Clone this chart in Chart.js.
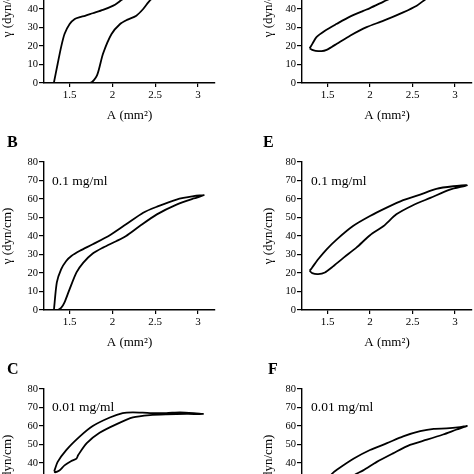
<!DOCTYPE html>
<html>
<head>
<meta charset="utf-8">
<script src="https://cdn.jsdelivr.net/npm/chart.js@4.4.1/dist/chart.umd.min.js"></script>
<style>
  html, body { margin:0; padding:0; background:#fff; }
  body { width:474px; height:474px; overflow:hidden; position:relative; font-family:"Liberation Serif", "DejaVu Serif", serif; }
  .panel { position:absolute; width:237px; height:227px; }
  .letter { position:absolute; font-weight:bold; font-size:16px; line-height:16px; color:#000; }
  .conc { position:absolute; font-size:13.5px; line-height:14px; color:#000; white-space:nowrap; }
</style>
</head>
<body>
<script>
// ---- data ----
const xTicks = [1.5, 2, 2.5, 3];
const yTicks = [0, 10, 20, 30, 40, 50, 60, 70, 80];
const xTitle = "A (mm²)";
const yTitle = "γ (dyn/cm)";

// Panel A (top row, left)
const aX = [1.315,1.36,1.40,1.44,1.50,1.56,1.62,1.68,1.77,1.89,2.01,2.07,2.11,2.30,2.60,2.90,3.05,2.85,2.60,2.46,2.42,2.36,2.28,2.17,2.09,1.99,1.89,1.82,1.74,1.315];
const aY = [0,10.4,19.4,26.5,31.9,34.6,35.6,36.3,37.7,39.5,41.8,43.6,45,50,56,60,62,57,50,45.5,43.6,40,36.4,34.1,31.9,26.5,15.8,4.1,0,0];

// Panel D (top row, right)
const dX = [1.29,1.32,1.36,1.43,1.49,1.55,1.61,1.77,1.96,2.16,2.39,2.55,2.63,2.80,3.00,3.10,2.90,2.60,2.30,2.16,2.00,1.92,1.77,1.61,1.47,1.37,1.32,1.29];
const dY = [18.8,17.9,17.4,17.2,17.9,19.5,21.2,25.7,30.2,33.7,38.2,41.8,44.5,50,56,58,56,52,47,44,40.5,39,36,32,28.3,24.8,21,18.8];

// Panel B (middle row, left) 0.1 mg/ml
const bX = [1.316,1.35,1.40,1.46,1.52,1.62,1.77,1.97,2.16,2.36,2.52,2.75,2.95,3.07,2.95,2.75,2.52,2.32,2.16,2.05,1.89,1.77,1.66,1.58,1.50,1.44,1.40,1.36,1.316];
const bY = [0,14.9,22,26.5,29.2,32,35.5,40.4,46.3,52.6,55.8,59.7,61.5,62,60.3,57,51.7,45.4,40,37.3,33.7,30.5,25.6,20.3,11.3,4.1,1.1,0,0];

// Panel E (middle row, right) 0.1 mg/ml
const eX = [1.29,1.32,1.39,1.47,1.55,1.69,1.84,2.00,2.16,2.31,2.50,2.71,2.94,3.14,2.98,2.78,2.59,2.39,2.19,2.00,1.80,1.61,1.49,1.39,1.32,1.29];
const eY = [21.2,19.9,19.4,20.3,23,28.3,33.7,40.4,45.4,51.7,56.5,60.6,65.1,67.4,66.9,65.5,62.4,59.4,55.2,50.8,45.4,38.2,32.8,27.4,23,21.2];

// Panel C (bottom row, left) 0.01 mg/ml
const cX = [1.32,1.36,1.46,1.62,1.77,1.97,2.12,2.24,2.44,2.63,2.79,2.95,3.06,2.87,2.63,2.44,2.24,2.05,1.85,1.70,1.60,1.58,1.52,1.44,1.38,1.33,1.32];
const cY = [35.6,40.6,47,54.4,60,64.6,67,67.4,67,67,67.4,67,66.5,66.5,66.3,65.9,64.6,61,56.3,50.7,44.3,42.4,41.1,38.7,36,35,35.6];

// Panel F (bottom row, right) 0.01 mg/ml
const fX = [1.45,1.50,1.55,1.61,1.81,2.00,2.20,2.39,2.59,2.75,2.90,3.06,3.14,3.02,2.86,2.67,2.47,2.27,2.08,1.92,1.84,1.72,1.58,1.45];
const fY = [28,30.5,34,36.3,42.4,47,50.7,54.4,57.2,58.5,58.7,59.4,60,58.1,55.4,52.6,49.8,45.2,40.6,36,34.2,31,28.5,28];

const letters = ["A", "B", "C", "D", "E", "F"];
const concs = ["", "0.1 mg/ml", "0.01 mg/ml", "", "0.1 mg/ml", "0.01 mg/ml"];

// ---- layout ----
const FONT = "'Liberation Serif', 'Times New Roman', serif";
const rowTops = [-97, 130, 357];
const panels = [
  {x:aX, y:aY, col:0, row:0},
  {x:bX, y:bY, col:0, row:1},
  {x:cX, y:cY, col:0, row:2},
  {x:dX, y:dY, col:1, row:0},
  {x:eX, y:eY, col:1, row:1},
  {x:fX, y:fY, col:1, row:2}
];
const letterPos = [[7,-92],[7,134],[7,361],[263,-92],[263,134],[268,361]];
const concPos = [[52,-53],[52,174],[52,400],[311,-53],[311,174],[311,400]];

panels.forEach((p, i) => {
  const div = document.createElement('div');
  div.className = 'panel';
  div.style.left = (p.col * 237) + 'px';
  div.style.top = rowTops[p.row] + 'px';
  const cv = document.createElement('canvas');
  cv.width = 237; cv.height = 227;
  div.appendChild(cv);
  document.body.appendChild(div);

  const left = p.col === 0;
  new Chart(cv, {
    type: 'scatter',
    data: {
      datasets: [{
        data: p.x.map((v, k) => ({x: v, y: p.y[k]})),
        showLine: true,
        borderColor: '#000',
        borderWidth: 1.8,
        pointRadius: 0,
        tension: 0.25,
        fill: false
      }]
    },
    options: {
      responsive: false,
      animation: false,
      devicePixelRatio: 1,
      layout: { padding: { left: left ? 0 : 24, right: left ? 22 : 2, top: 32, bottom: 0 } },
      plugins: { legend: {display:false}, tooltip: {enabled:false} },
      scales: {
        x: {
          type: 'linear', min: 1.2, max: 3.2,
          afterBuildTicks: s => { s.ticks = xTicks.map(v => ({value: v})); },
          afterFit: s => { s.height = 47; },
          ticks: { color:'#000', font:{family:FONT, size:11}, padding:2, maxRotation:0, autoSkip:false, callback: v => String(v) },
          grid: { drawOnChartArea:false, drawTicks:true, tickLength:4, color:'#000', lineWidth:1.2 },
          border: { display:true, color:'#000', width:1.4 },
          title: { display:true, text:xTitle, color:'#000', font:{family:FONT, size:13}, padding:{top:0, bottom:7} }
        },
        y: {
          type: 'linear', min: 0, max: 80,
          afterBuildTicks: s => { s.ticks = yTicks.map(v => ({value: v})); },
          afterFit: s => { s.width = left ? 44 : 41; },
          ticks: { color:'#000', font:{family:FONT, size:10.5}, padding:1, autoSkip:false, callback: v => String(v) },
          grid: { drawOnChartArea:false, drawTicks:true, tickLength:5, color:'#000', lineWidth:1.2 },
          border: { display:true, color:'#000', width:1.4 },
          title: { display:true, text:yTitle, color:'#000', font:{family:FONT, size:13}, padding:{top:0, bottom:0} }
        }
      }
    }
  });

  const L = document.createElement('div');
  L.className = 'letter';
  L.textContent = letters[i];
  L.style.left = letterPos[i][0] + 'px';
  L.style.top = letterPos[i][1] + 'px';
  document.body.appendChild(L);
  if (concs[i]) {
    const C = document.createElement('div');
    C.className = 'conc';
    C.textContent = concs[i];
    C.style.left = concPos[i][0] + 'px';
    C.style.top = concPos[i][1] + 'px';
    document.body.appendChild(C);
  }
});
</script>
</body>
</html>
